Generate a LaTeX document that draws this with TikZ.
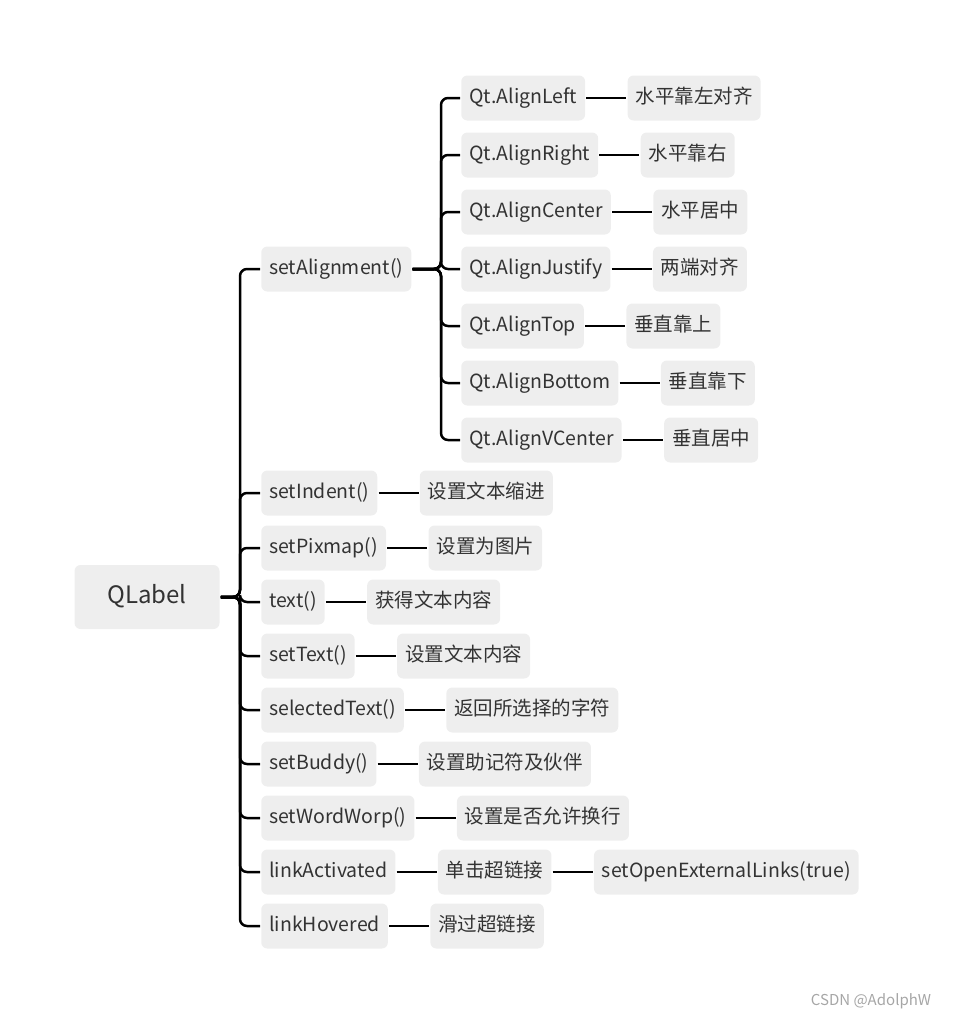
\documentclass[tikz,border=0pt]{standalone}
\usepackage{fontspec}
\setmainfont{Noto Sans CJK SC}
\usetikzlibrary{positioning}
\definecolor{boxgray}{HTML}{EEEEEE}
\definecolor{txt}{HTML}{333333}
\begin{document}
\begin{tikzpicture}[x=1pt,y=-1pt,
  item/.style={fill=boxgray,rounded corners=6pt,text=txt,font=\fontsize{19.5}{22}\selectfont,inner xsep=8pt,inner ysep=0pt,text height=15pt,text depth=5pt,minimum height=45pt,anchor=west},
  leaf/.style={item,right=40pt of #1},
  conn/.style={line width=2.5pt,rounded corners=7pt},
  line width=2.5pt]
\useasboundingbox (0,0) rectangle (964,1023);
\node[item,font=\fontsize{24}{28}\selectfont,minimum width=145pt,minimum height=64pt,anchor=center,text height=18pt,text depth=6pt] (root) at (147,597) {QLabel};
\node[item] (sa) at (260,269) {setAlignment()};
\foreach \n/\t/\y/\l in {a1/Qt.AlignLeft/98/水平靠左对齐,a2/Qt.AlignRight/155/水平靠右,a3/Qt.AlignCenter/212/水平居中,a4/Qt.AlignJustify/269/两端对齐,a5/Qt.AlignTop/326/垂直靠上,a6/Qt.AlignBottom/383/垂直靠下,a7/Qt.AlignVCenter/440/垂直居中}{
  \node[item] (\n) at (460,\y) {\t};
  \node[leaf=\n] (\n l) {\l};
  \draw (\n) -- (\n l);
  \draw[conn] (sa.east) -- (441,269) |- (\n.west);
}
\foreach \n/\t/\y/\l in {b1/setIndent()/493/设置文本缩进,b2/setPixmap()/548/设置为图片,b3/text()/602/获得文本内容,b4/setText()/656/设置文本内容,b5/selectedText()/710/返回所选择的字符,b6/setBuddy()/764/设置助记符及伙伴,b7/setWordWorp()/818/设置是否允许换行,b8/linkActivated/872/单击超链接,b9/linkHovered/926/滑过超链接}{
  \node[item] (\n) at (260,\y) {\t};
  \node[leaf=\n] (\n l) {\l};
  \draw (\n) -- (\n l);
}
\node[leaf=b8l] (ext) {setOpenExternalLinks(true)};
\draw (b8l) -- (ext);
\foreach \n in {sa,b1,b2,b3,b4,b5,b6,b7,b8,b9}{
  \draw[conn] (root.east) -- (240,597) |- (\n.west);
}
\node[text=gray!70,font=\fontsize{15}{17}\selectfont] (wm) at (871,1001) {CSDN @AdolphW};
\end{tikzpicture}
\end{document}
